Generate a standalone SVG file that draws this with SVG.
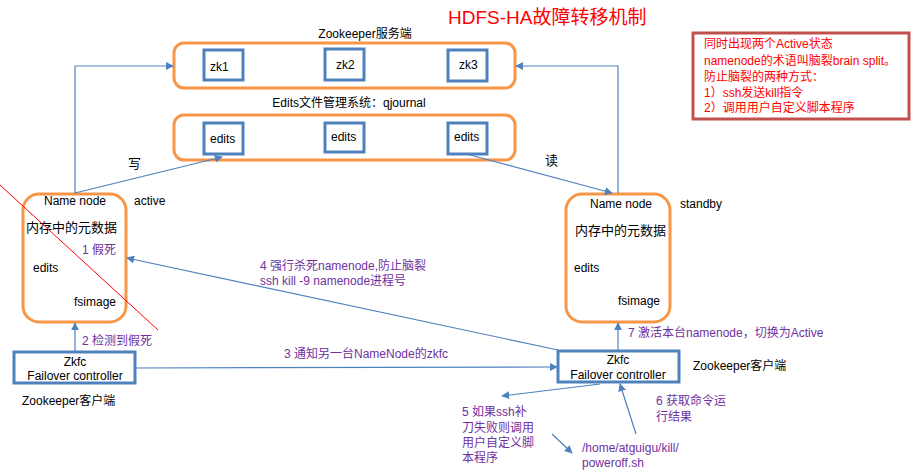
<svg xmlns="http://www.w3.org/2000/svg" width="911" height="476" viewBox="0 0 911 476">
<style>
text{font-family:"Liberation Sans","Noto Sans CJK SC",sans-serif;font-size:12px;fill:#000}
.t{fill:#ff0000;font-size:19px}
.r{fill:#ff0000;font-size:12px}
.p{fill:#7030A0}
.c{text-anchor:middle}
.z{font-size:13px}
.og{fill:#fff;stroke:#F79646;stroke-width:3}
.bb{fill:#fff;stroke:#4F81BD;stroke-width:3}
.ln{fill:none;stroke:#4F81BD;stroke-width:1.2}
</style>
<defs>
<marker id="ah" viewBox="0 0 10 10" refX="9" refY="5" markerWidth="8" markerHeight="8" markerUnits="userSpaceOnUse" orient="auto">
<path d="M0,0 L10,5 L0,10 z" fill="#4F81BD"/>
</marker>
</defs>
<rect width="911" height="476" fill="#fff"/>
<text class="t" x="448" y="24">HDFS-HA故障转移机制</text>
<g id="note">
<rect x="693" y="33" width="216" height="86" fill="#fff" stroke="#C0504D" stroke-width="3"/>
<text class="r" x="704" y="48">同时出现两个Active状态</text>
<text class="r" x="704" y="65">namenode的术语叫脑裂brain split。</text>
<text class="r" x="704" y="81">防止脑裂的两种方式：</text>
<text class="r" x="704" y="97">1）ssh发送kill指令</text>
<text class="r" x="704" y="112">2）调用用户自定义脚本程序</text>
</g>
<g id="zkserver">
<text class="c" x="365" y="38">Zookeeper服务端</text>
<rect class="og" x="174" y="43" width="341" height="45" rx="10"/>
<rect class="bb" x="204" y="50" width="39" height="30"/>
<text x="210" y="71">zk1</text>
<rect class="bb" x="325" y="49" width="39" height="31"/>
<text x="336" y="69">zk2</text>
<rect class="bb" x="448" y="50" width="39" height="31"/>
<text x="459" y="69">zk3</text>
</g>
<g id="qjournal">
<text class="c" x="349" y="107">Edits文件管理系统：qjournal</text>
<rect class="og" x="174" y="115" width="341" height="45" rx="10"/>
<rect class="bb" x="204" y="123" width="39" height="31"/>
<text x="210" y="143">edits</text>
<rect class="bb" x="325" y="123" width="39" height="29"/>
<text x="331" y="141">edits</text>
<rect class="bb" x="448" y="123" width="39" height="31"/>
<text x="454" y="141">edits</text>
</g>
<g id="nn-active">
<rect class="og" x="23" y="194" width="103" height="128" rx="16"/>
<text class="c" x="75" y="205">Name node</text>
<text x="134" y="205">active</text>
<text class="z" x="26" y="232">内存中的元数据</text>
<text x="33" y="272">edits</text>
<text x="74" y="306">fsimage</text>
</g>
<g id="nn-standby">
<rect class="og" x="566" y="194" width="104" height="128" rx="16"/>
<text class="c" x="621" y="208">Name node</text>
<text x="680" y="208">standby</text>
<text class="z" x="575" y="235">内存中的元数据</text>
<text x="574" y="272">edits</text>
<text x="618" y="305">fsimage</text>
</g>
<g id="zkfc-left">
<rect class="bb" x="14" y="352" width="121" height="31"/>
<text class="c" x="75" y="366">Zkfc</text>
<text class="c" x="75" y="380">Failover controller</text>
<text x="22" y="405">Zookeeper客户端</text>
</g>
<g id="zkfc-right">
<rect class="bb" x="558" y="351" width="121" height="31"/>
<text class="c" x="618" y="364">Zkfc</text>
<text class="c" x="618" y="379">Failover controller</text>
<text x="693" y="370">Zookeeper客户端</text>
</g>
<g id="connectors">
<polyline class="ln" points="75,193 75,66 173,66" marker-end="url(#ah)"/>
<line class="ln" x1="75" y1="193" x2="222" y2="157" marker-end="url(#ah)"/>
<polyline class="ln" points="618,193 618,66 516,66" marker-end="url(#ah)"/>
<line class="ln" x1="470" y1="155" x2="612" y2="193" marker-end="url(#ah)"/>
<line class="ln" x1="75" y1="352" x2="75" y2="323" marker-end="url(#ah)"/>
<line class="ln" x1="618" y1="351" x2="618" y2="323" marker-end="url(#ah)"/>
<line class="ln" x1="558" y1="350" x2="127" y2="258" marker-end="url(#ah)"/>
<line class="ln" x1="135" y1="368" x2="557" y2="367" marker-end="url(#ah)"/>
<line class="ln" x1="600" y1="384" x2="502" y2="396" marker-end="url(#ah)"/>
<line class="ln" x1="552" y1="434" x2="572" y2="453" marker-end="url(#ah)"/>
<line class="ln" x1="636" y1="434" x2="620" y2="384" marker-end="url(#ah)"/>
<line x1="0" y1="185" x2="158" y2="330" stroke="#ff0000" stroke-width="1"/>
</g>
<g id="labels">
<text class="z" x="128" y="168">写</text>
<text class="z" x="545" y="165">读</text>
<text class="p" x="82" y="254">1 假死</text>
<text class="p" x="82" y="345">2 检测到假死</text>
<text class="p" x="284" y="358">3 通知另一台NameNode的zkfc</text>
<text class="p" x="260" y="270">4 强行杀死namenode,防止脑裂</text>
<text class="p" x="260" y="285">ssh kill -9 namenode进程号</text>
<text class="p" x="462" y="416">5 如果ssh补</text>
<text class="p" x="462" y="432">刀失败则调用</text>
<text class="p" x="462" y="447">用户自定义脚</text>
<text class="p" x="462" y="462">本程序</text>
<text class="p" x="656" y="405">6 获取命令运</text>
<text class="p" x="656" y="421">行结果</text>
<text class="p" x="628" y="337">7 激活本台namenode，切换为Active</text>
<text class="p" x="582" y="452">/home/atguigu/kill/</text>
<text class="p" x="582" y="467">poweroff.sh</text>
</g>
</svg>
